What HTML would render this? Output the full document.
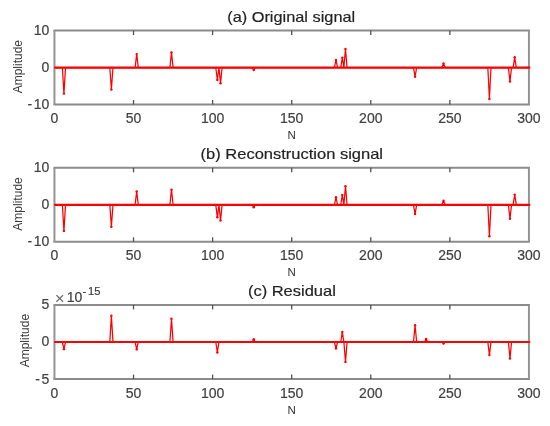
<!DOCTYPE html>
<html><head><meta charset="utf-8"><title>Signal reconstruction</title>
<style>
html,body{margin:0;padding:0;background:#fff;overflow:hidden;}
svg{display:block;}
text{font-family:'Liberation Sans', Arial, sans-serif;fill:#333333;}
</style></head><body>
<svg width="550" height="426" viewBox="0 0 550 426">
<rect x="0" y="0" width="550" height="426" fill="#fff"/>
<line x1="53.45" y1="30.55" x2="529.95" y2="30.55" stroke="#8b8b8b" stroke-width="2.0"/>
<line x1="53.45" y1="104.50" x2="529.95" y2="104.50" stroke="#8b8b8b" stroke-width="2.0"/>
<line x1="54.45" y1="30.55" x2="54.45" y2="104.50" stroke="#949494" stroke-width="2.0"/>
<line x1="528.95" y1="30.55" x2="528.95" y2="104.50" stroke="#949494" stroke-width="2.0"/>
<text x="54.45" y="123.10" font-size="14" text-anchor="middle" style="fill:#404040" stroke="#404040" stroke-width="0.2">0</text>
<line x1="133.53" y1="104.50" x2="133.53" y2="100.00" stroke="#505050" stroke-width="1.3"/>
<line x1="133.53" y1="30.55" x2="133.53" y2="35.05" stroke="#505050" stroke-width="1.3"/>
<text x="133.53" y="123.10" font-size="14" text-anchor="middle" style="fill:#404040" stroke="#404040" stroke-width="0.2">50</text>
<line x1="212.62" y1="104.50" x2="212.62" y2="100.00" stroke="#505050" stroke-width="1.3"/>
<line x1="212.62" y1="30.55" x2="212.62" y2="35.05" stroke="#505050" stroke-width="1.3"/>
<text x="212.62" y="123.10" font-size="14" text-anchor="middle" style="fill:#404040" stroke="#404040" stroke-width="0.2">100</text>
<line x1="291.70" y1="104.50" x2="291.70" y2="100.00" stroke="#505050" stroke-width="1.3"/>
<line x1="291.70" y1="30.55" x2="291.70" y2="35.05" stroke="#505050" stroke-width="1.3"/>
<text x="291.70" y="123.10" font-size="14" text-anchor="middle" style="fill:#404040" stroke="#404040" stroke-width="0.2">150</text>
<line x1="370.78" y1="104.50" x2="370.78" y2="100.00" stroke="#505050" stroke-width="1.3"/>
<line x1="370.78" y1="30.55" x2="370.78" y2="35.05" stroke="#505050" stroke-width="1.3"/>
<text x="370.78" y="123.10" font-size="14" text-anchor="middle" style="fill:#404040" stroke="#404040" stroke-width="0.2">200</text>
<line x1="449.87" y1="104.50" x2="449.87" y2="100.00" stroke="#505050" stroke-width="1.3"/>
<line x1="449.87" y1="30.55" x2="449.87" y2="35.05" stroke="#505050" stroke-width="1.3"/>
<text x="449.87" y="123.10" font-size="14" text-anchor="middle" style="fill:#404040" stroke="#404040" stroke-width="0.2">250</text>
<text x="528.95" y="123.10" font-size="14" text-anchor="middle" style="fill:#404040" stroke="#404040" stroke-width="0.2">300</text>
<text x="49.3" y="108.95" font-size="14" text-anchor="end" style="fill:#404040" stroke="#404040" stroke-width="0.2">-<tspan dx="1.6">10</tspan></text>
<line x1="54.45" y1="67.53" x2="58.95" y2="67.53" stroke="#505050" stroke-width="1.3"/>
<line x1="528.95" y1="67.53" x2="524.45" y2="67.53" stroke="#505050" stroke-width="1.3"/>
<text x="49.3" y="71.98" font-size="14" text-anchor="end" style="fill:#404040" stroke="#404040" stroke-width="0.2">0</text>
<text x="49.3" y="35.00" font-size="14" text-anchor="end" style="fill:#404040" stroke="#404040" stroke-width="0.2">10</text>
<line x1="55.05" y1="67.53" x2="529.35" y2="67.53" stroke="#ff0000" stroke-width="2.2" stroke-linecap="round"/>
<polyline points="56.03,67.53 57.61,67.53 59.20,67.53 60.78,67.53 62.36,67.53 63.94,93.62 65.52,67.53 67.10,67.53 68.69,67.53 70.27,67.53 71.85,67.53 73.43,67.53 75.01,67.53 76.59,67.53 78.18,67.53 79.76,67.53 81.34,67.53 82.92,67.53 84.50,67.53 86.08,67.53 87.67,67.53 89.25,67.53 90.83,67.53 92.41,67.53 93.99,67.53 95.57,67.53 97.16,67.53 98.74,67.53 100.32,67.53 101.90,67.53 103.48,67.53 105.06,67.53 106.65,67.53 108.23,67.53 109.81,67.53 111.39,89.58 112.97,67.53 114.55,67.53 116.14,67.53 117.72,67.53 119.30,67.53 120.88,67.53 122.46,67.53 124.04,67.53 125.63,67.53 127.21,67.53 128.79,67.53 130.37,67.53 131.95,67.53 133.53,67.53 135.12,67.53 136.70,54.11 138.28,67.53 139.86,67.53 141.44,67.53 143.02,67.53 144.61,67.53 146.19,67.53 147.77,67.53 149.35,67.53 150.93,67.53 152.51,67.53 154.10,67.53 155.68,67.53 157.26,67.53 158.84,67.53 160.42,67.53 162.00,67.53 163.59,67.53 165.17,67.53 166.75,67.53 168.33,67.53 169.91,67.53 171.49,52.38 173.08,67.53 174.66,67.53 176.24,67.53 177.82,67.53 179.40,67.53 180.98,67.53 182.57,67.53 184.15,67.53 185.73,67.53 187.31,67.53 188.89,67.53 190.47,67.53 192.06,67.53 193.64,67.53 195.22,67.53 196.80,67.53 198.38,67.53 199.96,67.53 201.55,67.53 203.13,67.53 204.71,67.53 206.29,67.53 207.87,67.53 209.45,67.53 211.04,67.53 212.62,67.53 214.20,67.53 215.78,67.53 217.36,80.02 218.94,67.53 220.53,83.18 222.11,67.53 223.69,67.53 225.27,67.53 226.85,67.53 228.43,67.53 230.02,67.53 231.60,67.53 233.18,67.53 234.76,67.53 236.34,67.53 237.92,67.53 239.51,67.53 241.09,67.53 242.67,67.53 244.25,67.53 245.83,67.53 247.41,67.53 249.00,67.53 250.58,67.53 252.16,67.53 253.74,70.10 255.32,67.53 256.90,67.53 258.49,67.53 260.07,67.53 261.65,67.53 263.23,67.53 264.81,67.53 266.39,67.53 267.98,67.53 269.56,67.53 271.14,67.53 272.72,67.53 274.30,67.53 275.88,67.53 277.47,67.53 279.05,67.53 280.63,67.53 282.21,67.53 283.79,67.53 285.37,67.53 286.96,67.53 288.54,67.53 290.12,67.53 291.70,67.53 293.28,67.53 294.86,67.53 296.45,67.53 298.03,67.53 299.61,67.53 301.19,67.53 302.77,67.53 304.35,67.53 305.94,67.53 307.52,67.53 309.10,67.53 310.68,67.53 312.26,67.53 313.84,67.53 315.43,67.53 317.01,67.53 318.59,67.53 320.17,67.53 321.75,67.53 323.33,67.53 324.92,67.53 326.50,67.53 328.08,67.53 329.66,67.53 331.24,67.53 332.82,67.53 334.41,67.53 335.99,59.99 337.57,67.53 339.15,67.53 340.73,67.53 342.31,57.60 343.90,67.53 345.48,48.89 347.06,67.53 348.64,67.53 350.22,67.53 351.80,67.53 353.39,67.53 354.97,67.53 356.55,67.53 358.13,67.53 359.71,67.53 361.29,67.53 362.88,67.53 364.46,67.53 366.04,67.53 367.62,67.53 369.20,67.53 370.78,67.53 372.37,67.53 373.95,67.53 375.53,67.53 377.11,67.53 378.69,67.53 380.27,67.53 381.86,67.53 383.44,67.53 385.02,67.53 386.60,67.53 388.18,67.53 389.76,67.53 391.35,67.53 392.93,67.53 394.51,67.53 396.09,67.53 397.67,67.53 399.25,67.53 400.84,67.53 402.42,67.53 404.00,67.53 405.58,67.53 407.16,67.53 408.74,67.53 410.33,67.53 411.91,67.53 413.49,67.53 415.07,76.71 416.65,67.53 418.23,67.53 419.82,67.53 421.40,67.53 422.98,67.53 424.56,67.53 426.14,67.53 427.72,67.53 429.31,67.53 430.89,67.53 432.47,67.53 434.05,67.53 435.63,67.53 437.21,67.53 438.80,67.53 440.38,67.53 441.96,67.53 443.54,63.48 445.12,67.53 446.70,67.53 448.29,67.53 449.87,67.53 451.45,67.53 453.03,67.53 454.61,67.53 456.19,67.53 457.78,67.53 459.36,67.53 460.94,67.53 462.52,67.53 464.10,67.53 465.68,67.53 467.27,67.53 468.85,67.53 470.43,67.53 472.01,67.53 473.59,67.53 475.17,67.53 476.76,67.53 478.34,67.53 479.92,67.53 481.50,67.53 483.08,67.53 484.66,67.53 486.25,67.53 487.83,67.53 489.41,98.98 490.99,67.53 492.57,67.53 494.15,67.53 495.74,67.53 497.32,67.53 498.90,67.53 500.48,67.53 502.06,67.53 503.64,67.53 505.23,67.53 506.81,67.53 508.39,67.53 509.97,81.49 511.55,67.53 513.13,67.53 514.72,57.31 516.30,67.53 517.88,67.53 519.46,67.53 521.04,67.53 522.62,67.53 524.21,67.53 525.79,67.53 527.37,67.53 528.95,67.53" fill="none" stroke="#ff0000" stroke-width="1.25" stroke-linejoin="round"/>
<circle cx="63.94" cy="93.62" r="1.2" fill="#ff0000"/>
<circle cx="111.39" cy="89.58" r="1.2" fill="#ff0000"/>
<circle cx="136.70" cy="54.11" r="1.2" fill="#ff0000"/>
<circle cx="171.49" cy="52.38" r="1.2" fill="#ff0000"/>
<circle cx="217.36" cy="80.02" r="1.2" fill="#ff0000"/>
<circle cx="220.53" cy="83.18" r="1.2" fill="#ff0000"/>
<circle cx="253.74" cy="70.10" r="1.2" fill="#ff0000"/>
<circle cx="335.99" cy="59.99" r="1.2" fill="#ff0000"/>
<circle cx="342.31" cy="57.60" r="1.2" fill="#ff0000"/>
<circle cx="345.48" cy="48.89" r="1.2" fill="#ff0000"/>
<circle cx="415.07" cy="76.71" r="1.2" fill="#ff0000"/>
<circle cx="443.54" cy="63.48" r="1.2" fill="#ff0000"/>
<circle cx="489.41" cy="98.98" r="1.2" fill="#ff0000"/>
<circle cx="509.97" cy="81.49" r="1.2" fill="#ff0000"/>
<circle cx="514.72" cy="57.31" r="1.2" fill="#ff0000"/>
<text x="227.20" y="21.70" font-size="15" textLength="128.00" lengthAdjust="spacingAndGlyphs" style="fill:#222" stroke="#222" stroke-width="0.18">(a) Original signal</text>
<text x="291.70" y="139.10" font-size="11.5" text-anchor="middle" style="fill:#333">N</text>
<text transform="translate(21.8,66.68) rotate(-90)" x="0" y="0" font-size="12" text-anchor="middle" style="fill:#3a3a3a">Amplitude</text>
<line x1="53.45" y1="167.80" x2="529.95" y2="167.80" stroke="#8b8b8b" stroke-width="2.0"/>
<line x1="53.45" y1="241.80" x2="529.95" y2="241.80" stroke="#8b8b8b" stroke-width="2.0"/>
<line x1="54.45" y1="167.80" x2="54.45" y2="241.80" stroke="#949494" stroke-width="2.0"/>
<line x1="528.95" y1="167.80" x2="528.95" y2="241.80" stroke="#949494" stroke-width="2.0"/>
<text x="54.45" y="260.40" font-size="14" text-anchor="middle" style="fill:#404040" stroke="#404040" stroke-width="0.2">0</text>
<line x1="133.53" y1="241.80" x2="133.53" y2="237.30" stroke="#505050" stroke-width="1.3"/>
<line x1="133.53" y1="167.80" x2="133.53" y2="172.30" stroke="#505050" stroke-width="1.3"/>
<text x="133.53" y="260.40" font-size="14" text-anchor="middle" style="fill:#404040" stroke="#404040" stroke-width="0.2">50</text>
<line x1="212.62" y1="241.80" x2="212.62" y2="237.30" stroke="#505050" stroke-width="1.3"/>
<line x1="212.62" y1="167.80" x2="212.62" y2="172.30" stroke="#505050" stroke-width="1.3"/>
<text x="212.62" y="260.40" font-size="14" text-anchor="middle" style="fill:#404040" stroke="#404040" stroke-width="0.2">100</text>
<line x1="291.70" y1="241.80" x2="291.70" y2="237.30" stroke="#505050" stroke-width="1.3"/>
<line x1="291.70" y1="167.80" x2="291.70" y2="172.30" stroke="#505050" stroke-width="1.3"/>
<text x="291.70" y="260.40" font-size="14" text-anchor="middle" style="fill:#404040" stroke="#404040" stroke-width="0.2">150</text>
<line x1="370.78" y1="241.80" x2="370.78" y2="237.30" stroke="#505050" stroke-width="1.3"/>
<line x1="370.78" y1="167.80" x2="370.78" y2="172.30" stroke="#505050" stroke-width="1.3"/>
<text x="370.78" y="260.40" font-size="14" text-anchor="middle" style="fill:#404040" stroke="#404040" stroke-width="0.2">200</text>
<line x1="449.87" y1="241.80" x2="449.87" y2="237.30" stroke="#505050" stroke-width="1.3"/>
<line x1="449.87" y1="167.80" x2="449.87" y2="172.30" stroke="#505050" stroke-width="1.3"/>
<text x="449.87" y="260.40" font-size="14" text-anchor="middle" style="fill:#404040" stroke="#404040" stroke-width="0.2">250</text>
<text x="528.95" y="260.40" font-size="14" text-anchor="middle" style="fill:#404040" stroke="#404040" stroke-width="0.2">300</text>
<text x="49.3" y="246.25" font-size="14" text-anchor="end" style="fill:#404040" stroke="#404040" stroke-width="0.2">-<tspan dx="1.6">10</tspan></text>
<line x1="54.45" y1="204.80" x2="58.95" y2="204.80" stroke="#505050" stroke-width="1.3"/>
<line x1="528.95" y1="204.80" x2="524.45" y2="204.80" stroke="#505050" stroke-width="1.3"/>
<text x="49.3" y="209.25" font-size="14" text-anchor="end" style="fill:#404040" stroke="#404040" stroke-width="0.2">0</text>
<text x="49.3" y="172.25" font-size="14" text-anchor="end" style="fill:#404040" stroke="#404040" stroke-width="0.2">10</text>
<line x1="55.05" y1="204.80" x2="529.35" y2="204.80" stroke="#ff0000" stroke-width="2.2" stroke-linecap="round"/>
<polyline points="56.03,204.80 57.61,204.80 59.20,204.80 60.78,204.80 62.36,204.80 63.94,230.89 65.52,204.80 67.10,204.80 68.69,204.80 70.27,204.80 71.85,204.80 73.43,204.80 75.01,204.80 76.59,204.80 78.18,204.80 79.76,204.80 81.34,204.80 82.92,204.80 84.50,204.80 86.08,204.80 87.67,204.80 89.25,204.80 90.83,204.80 92.41,204.80 93.99,204.80 95.57,204.80 97.16,204.80 98.74,204.80 100.32,204.80 101.90,204.80 103.48,204.80 105.06,204.80 106.65,204.80 108.23,204.80 109.81,204.80 111.39,226.85 112.97,204.80 114.55,204.80 116.14,204.80 117.72,204.80 119.30,204.80 120.88,204.80 122.46,204.80 124.04,204.80 125.63,204.80 127.21,204.80 128.79,204.80 130.37,204.80 131.95,204.80 133.53,204.80 135.12,204.80 136.70,191.39 138.28,204.80 139.86,204.80 141.44,204.80 143.02,204.80 144.61,204.80 146.19,204.80 147.77,204.80 149.35,204.80 150.93,204.80 152.51,204.80 154.10,204.80 155.68,204.80 157.26,204.80 158.84,204.80 160.42,204.80 162.00,204.80 163.59,204.80 165.17,204.80 166.75,204.80 168.33,204.80 169.91,204.80 171.49,189.66 173.08,204.80 174.66,204.80 176.24,204.80 177.82,204.80 179.40,204.80 180.98,204.80 182.57,204.80 184.15,204.80 185.73,204.80 187.31,204.80 188.89,204.80 190.47,204.80 192.06,204.80 193.64,204.80 195.22,204.80 196.80,204.80 198.38,204.80 199.96,204.80 201.55,204.80 203.13,204.80 204.71,204.80 206.29,204.80 207.87,204.80 209.45,204.80 211.04,204.80 212.62,204.80 214.20,204.80 215.78,204.80 217.36,217.30 218.94,204.80 220.53,220.46 222.11,204.80 223.69,204.80 225.27,204.80 226.85,204.80 228.43,204.80 230.02,204.80 231.60,204.80 233.18,204.80 234.76,204.80 236.34,204.80 237.92,204.80 239.51,204.80 241.09,204.80 242.67,204.80 244.25,204.80 245.83,204.80 247.41,204.80 249.00,204.80 250.58,204.80 252.16,204.80 253.74,207.37 255.32,204.80 256.90,204.80 258.49,204.80 260.07,204.80 261.65,204.80 263.23,204.80 264.81,204.80 266.39,204.80 267.98,204.80 269.56,204.80 271.14,204.80 272.72,204.80 274.30,204.80 275.88,204.80 277.47,204.80 279.05,204.80 280.63,204.80 282.21,204.80 283.79,204.80 285.37,204.80 286.96,204.80 288.54,204.80 290.12,204.80 291.70,204.80 293.28,204.80 294.86,204.80 296.45,204.80 298.03,204.80 299.61,204.80 301.19,204.80 302.77,204.80 304.35,204.80 305.94,204.80 307.52,204.80 309.10,204.80 310.68,204.80 312.26,204.80 313.84,204.80 315.43,204.80 317.01,204.80 318.59,204.80 320.17,204.80 321.75,204.80 323.33,204.80 324.92,204.80 326.50,204.80 328.08,204.80 329.66,204.80 331.24,204.80 332.82,204.80 334.41,204.80 335.99,197.27 337.57,204.80 339.15,204.80 340.73,204.80 342.31,194.88 343.90,204.80 345.48,186.17 347.06,204.80 348.64,204.80 350.22,204.80 351.80,204.80 353.39,204.80 354.97,204.80 356.55,204.80 358.13,204.80 359.71,204.80 361.29,204.80 362.88,204.80 364.46,204.80 366.04,204.80 367.62,204.80 369.20,204.80 370.78,204.80 372.37,204.80 373.95,204.80 375.53,204.80 377.11,204.80 378.69,204.80 380.27,204.80 381.86,204.80 383.44,204.80 385.02,204.80 386.60,204.80 388.18,204.80 389.76,204.80 391.35,204.80 392.93,204.80 394.51,204.80 396.09,204.80 397.67,204.80 399.25,204.80 400.84,204.80 402.42,204.80 404.00,204.80 405.58,204.80 407.16,204.80 408.74,204.80 410.33,204.80 411.91,204.80 413.49,204.80 415.07,213.99 416.65,204.80 418.23,204.80 419.82,204.80 421.40,204.80 422.98,204.80 424.56,204.80 426.14,204.80 427.72,204.80 429.31,204.80 430.89,204.80 432.47,204.80 434.05,204.80 435.63,204.80 437.21,204.80 438.80,204.80 440.38,204.80 441.96,204.80 443.54,200.76 445.12,204.80 446.70,204.80 448.29,204.80 449.87,204.80 451.45,204.80 453.03,204.80 454.61,204.80 456.19,204.80 457.78,204.80 459.36,204.80 460.94,204.80 462.52,204.80 464.10,204.80 465.68,204.80 467.27,204.80 468.85,204.80 470.43,204.80 472.01,204.80 473.59,204.80 475.17,204.80 476.76,204.80 478.34,204.80 479.92,204.80 481.50,204.80 483.08,204.80 484.66,204.80 486.25,204.80 487.83,204.80 489.41,236.26 490.99,204.80 492.57,204.80 494.15,204.80 495.74,204.80 497.32,204.80 498.90,204.80 500.48,204.80 502.06,204.80 503.64,204.80 505.23,204.80 506.81,204.80 508.39,204.80 509.97,218.77 511.55,204.80 513.13,204.80 514.72,194.58 516.30,204.80 517.88,204.80 519.46,204.80 521.04,204.80 522.62,204.80 524.21,204.80 525.79,204.80 527.37,204.80 528.95,204.80" fill="none" stroke="#ff0000" stroke-width="1.25" stroke-linejoin="round"/>
<circle cx="63.94" cy="230.89" r="1.2" fill="#ff0000"/>
<circle cx="111.39" cy="226.85" r="1.2" fill="#ff0000"/>
<circle cx="136.70" cy="191.39" r="1.2" fill="#ff0000"/>
<circle cx="171.49" cy="189.66" r="1.2" fill="#ff0000"/>
<circle cx="217.36" cy="217.30" r="1.2" fill="#ff0000"/>
<circle cx="220.53" cy="220.46" r="1.2" fill="#ff0000"/>
<circle cx="253.74" cy="207.37" r="1.2" fill="#ff0000"/>
<circle cx="335.99" cy="197.27" r="1.2" fill="#ff0000"/>
<circle cx="342.31" cy="194.88" r="1.2" fill="#ff0000"/>
<circle cx="345.48" cy="186.17" r="1.2" fill="#ff0000"/>
<circle cx="415.07" cy="213.99" r="1.2" fill="#ff0000"/>
<circle cx="443.54" cy="200.76" r="1.2" fill="#ff0000"/>
<circle cx="489.41" cy="236.26" r="1.2" fill="#ff0000"/>
<circle cx="509.97" cy="218.77" r="1.2" fill="#ff0000"/>
<circle cx="514.72" cy="194.58" r="1.2" fill="#ff0000"/>
<text x="200.60" y="158.50" font-size="15" textLength="182.40" lengthAdjust="spacingAndGlyphs" style="fill:#222" stroke="#222" stroke-width="0.18">(b) Reconstruction signal</text>
<text x="291.70" y="276.40" font-size="11.5" text-anchor="middle" style="fill:#333">N</text>
<text transform="translate(21.7,203.95) rotate(-90)" x="0" y="0" font-size="12" text-anchor="middle" style="fill:#3a3a3a">Amplitude</text>
<line x1="53.45" y1="304.95" x2="529.95" y2="304.95" stroke="#8b8b8b" stroke-width="2.0"/>
<line x1="53.45" y1="379.10" x2="529.95" y2="379.10" stroke="#8b8b8b" stroke-width="2.0"/>
<line x1="54.45" y1="304.95" x2="54.45" y2="379.10" stroke="#949494" stroke-width="2.0"/>
<line x1="528.95" y1="304.95" x2="528.95" y2="379.10" stroke="#949494" stroke-width="2.0"/>
<text x="54.45" y="397.70" font-size="14" text-anchor="middle" style="fill:#404040" stroke="#404040" stroke-width="0.2">0</text>
<line x1="133.53" y1="379.10" x2="133.53" y2="374.60" stroke="#505050" stroke-width="1.3"/>
<line x1="133.53" y1="304.95" x2="133.53" y2="309.45" stroke="#505050" stroke-width="1.3"/>
<text x="133.53" y="397.70" font-size="14" text-anchor="middle" style="fill:#404040" stroke="#404040" stroke-width="0.2">50</text>
<line x1="212.62" y1="379.10" x2="212.62" y2="374.60" stroke="#505050" stroke-width="1.3"/>
<line x1="212.62" y1="304.95" x2="212.62" y2="309.45" stroke="#505050" stroke-width="1.3"/>
<text x="212.62" y="397.70" font-size="14" text-anchor="middle" style="fill:#404040" stroke="#404040" stroke-width="0.2">100</text>
<line x1="291.70" y1="379.10" x2="291.70" y2="374.60" stroke="#505050" stroke-width="1.3"/>
<line x1="291.70" y1="304.95" x2="291.70" y2="309.45" stroke="#505050" stroke-width="1.3"/>
<text x="291.70" y="397.70" font-size="14" text-anchor="middle" style="fill:#404040" stroke="#404040" stroke-width="0.2">150</text>
<line x1="370.78" y1="379.10" x2="370.78" y2="374.60" stroke="#505050" stroke-width="1.3"/>
<line x1="370.78" y1="304.95" x2="370.78" y2="309.45" stroke="#505050" stroke-width="1.3"/>
<text x="370.78" y="397.70" font-size="14" text-anchor="middle" style="fill:#404040" stroke="#404040" stroke-width="0.2">200</text>
<line x1="449.87" y1="379.10" x2="449.87" y2="374.60" stroke="#505050" stroke-width="1.3"/>
<line x1="449.87" y1="304.95" x2="449.87" y2="309.45" stroke="#505050" stroke-width="1.3"/>
<text x="449.87" y="397.70" font-size="14" text-anchor="middle" style="fill:#404040" stroke="#404040" stroke-width="0.2">250</text>
<text x="528.95" y="397.70" font-size="14" text-anchor="middle" style="fill:#404040" stroke="#404040" stroke-width="0.2">300</text>
<text x="49.3" y="383.55" font-size="14" text-anchor="end" style="fill:#404040" stroke="#404040" stroke-width="0.2">-<tspan dx="1.6">5</tspan></text>
<line x1="54.45" y1="342.02" x2="58.95" y2="342.02" stroke="#505050" stroke-width="1.3"/>
<line x1="528.95" y1="342.02" x2="524.45" y2="342.02" stroke="#505050" stroke-width="1.3"/>
<text x="49.3" y="346.47" font-size="14" text-anchor="end" style="fill:#404040" stroke="#404040" stroke-width="0.2">0</text>
<text x="49.3" y="309.40" font-size="14" text-anchor="end" style="fill:#404040" stroke="#404040" stroke-width="0.2">5</text>
<line x1="55.05" y1="342.02" x2="529.35" y2="342.02" stroke="#ff0000" stroke-width="2.2" stroke-linecap="round"/>
<polyline points="56.03,342.02 57.61,342.02 59.20,342.02 60.78,342.02 62.36,342.02 63.94,349.13 65.52,342.02 67.10,342.02 68.69,342.02 70.27,342.02 71.85,342.02 73.43,342.02 75.01,342.02 76.59,342.02 78.18,342.02 79.76,342.02 81.34,342.02 82.92,342.02 84.50,342.02 86.08,342.02 87.67,342.02 89.25,342.02 90.83,342.02 92.41,342.02 93.99,342.02 95.57,342.02 97.16,342.02 98.74,342.02 100.32,342.02 101.90,342.02 103.48,342.02 105.06,342.02 106.65,342.02 108.23,342.02 109.81,342.02 111.39,315.75 112.97,342.02 114.55,342.02 116.14,342.02 117.72,342.02 119.30,342.02 120.88,342.02 122.46,342.02 124.04,342.02 125.63,342.02 127.21,342.02 128.79,342.02 130.37,342.02 131.95,342.02 133.53,342.02 135.12,342.02 136.70,349.42 138.28,342.02 139.86,342.02 141.44,342.02 143.02,342.02 144.61,342.02 146.19,342.02 147.77,342.02 149.35,342.02 150.93,342.02 152.51,342.02 154.10,342.02 155.68,342.02 157.26,342.02 158.84,342.02 160.42,342.02 162.00,342.02 163.59,342.02 165.17,342.02 166.75,342.02 168.33,342.02 169.91,342.02 171.49,318.71 173.08,342.02 174.66,342.02 176.24,342.02 177.82,342.02 179.40,342.02 180.98,342.02 182.57,342.02 184.15,342.02 185.73,342.02 187.31,342.02 188.89,342.02 190.47,342.02 192.06,342.02 193.64,342.02 195.22,342.02 196.80,342.02 198.38,342.02 199.96,342.02 201.55,342.02 203.13,342.02 204.71,342.02 206.29,342.02 207.87,342.02 209.45,342.02 211.04,342.02 212.62,342.02 214.20,342.02 215.78,342.02 217.36,352.53 218.94,342.02 220.53,342.02 222.11,342.02 223.69,342.02 225.27,342.02 226.85,342.02 228.43,342.02 230.02,342.02 231.60,342.02 233.18,342.02 234.76,342.02 236.34,342.02 237.92,342.02 239.51,342.02 241.09,342.02 242.67,342.02 244.25,342.02 245.83,342.02 247.41,342.02 249.00,342.02 250.58,342.02 252.16,342.02 253.74,339.21 255.32,342.02 256.90,342.02 258.49,342.02 260.07,342.02 261.65,342.02 263.23,342.02 264.81,342.02 266.39,342.02 267.98,342.02 269.56,342.02 271.14,342.02 272.72,342.02 274.30,342.02 275.88,342.02 277.47,342.02 279.05,342.02 280.63,342.02 282.21,342.02 283.79,342.02 285.37,342.02 286.96,342.02 288.54,342.02 290.12,342.02 291.70,342.02 293.28,342.02 294.86,342.02 296.45,342.02 298.03,342.02 299.61,342.02 301.19,342.02 302.77,342.02 304.35,342.02 305.94,342.02 307.52,342.02 309.10,342.02 310.68,342.02 312.26,342.02 313.84,342.02 315.43,342.02 317.01,342.02 318.59,342.02 320.17,342.02 321.75,342.02 323.33,342.02 324.92,342.02 326.50,342.02 328.08,342.02 329.66,342.02 331.24,342.02 332.82,342.02 334.41,342.02 335.99,348.54 337.57,342.02 339.15,342.02 340.73,342.02 342.31,332.03 343.90,342.02 345.48,362.00 347.06,342.02 348.64,342.02 350.22,342.02 351.80,342.02 353.39,342.02 354.97,342.02 356.55,342.02 358.13,342.02 359.71,342.02 361.29,342.02 362.88,342.02 364.46,342.02 366.04,342.02 367.62,342.02 369.20,342.02 370.78,342.02 372.37,342.02 373.95,342.02 375.53,342.02 377.11,342.02 378.69,342.02 380.27,342.02 381.86,342.02 383.44,342.02 385.02,342.02 386.60,342.02 388.18,342.02 389.76,342.02 391.35,342.02 392.93,342.02 394.51,342.02 396.09,342.02 397.67,342.02 399.25,342.02 400.84,342.02 402.42,342.02 404.00,342.02 405.58,342.02 407.16,342.02 408.74,342.02 410.33,342.02 411.91,342.02 413.49,342.02 415.07,325.30 416.65,342.02 418.23,342.02 419.82,342.02 421.40,342.02 422.98,342.02 424.56,342.02 426.14,338.84 427.72,342.02 429.31,342.02 430.89,342.02 432.47,342.02 434.05,342.02 435.63,342.02 437.21,342.02 438.80,342.02 440.38,342.02 441.96,342.02 443.54,343.50 445.12,342.02 446.70,342.02 448.29,342.02 449.87,342.02 451.45,342.02 453.03,342.02 454.61,342.02 456.19,342.02 457.78,342.02 459.36,342.02 460.94,342.02 462.52,342.02 464.10,342.02 465.68,342.02 467.27,342.02 468.85,342.02 470.43,342.02 472.01,342.02 473.59,342.02 475.17,342.02 476.76,342.02 478.34,342.02 479.92,342.02 481.50,342.02 483.08,342.02 484.66,342.02 486.25,342.02 487.83,342.02 489.41,355.12 490.99,342.02 492.57,342.02 494.15,342.02 495.74,342.02 497.32,342.02 498.90,342.02 500.48,342.02 502.06,342.02 503.64,342.02 505.23,342.02 506.81,342.02 508.39,342.02 509.97,358.53 511.55,342.02 513.13,342.02 514.72,342.02 516.30,342.02 517.88,342.02 519.46,342.02 521.04,342.02 522.62,342.02 524.21,342.02 525.79,342.02 527.37,342.02 528.95,342.02" fill="none" stroke="#ff0000" stroke-width="1.25" stroke-linejoin="round"/>
<circle cx="63.94" cy="349.13" r="1.2" fill="#ff0000"/>
<circle cx="111.39" cy="315.75" r="1.2" fill="#ff0000"/>
<circle cx="136.70" cy="349.42" r="1.2" fill="#ff0000"/>
<circle cx="171.49" cy="318.71" r="1.2" fill="#ff0000"/>
<circle cx="217.36" cy="352.53" r="1.2" fill="#ff0000"/>
<circle cx="253.74" cy="339.21" r="1.2" fill="#ff0000"/>
<circle cx="335.99" cy="348.54" r="1.2" fill="#ff0000"/>
<circle cx="342.31" cy="332.03" r="1.2" fill="#ff0000"/>
<circle cx="345.48" cy="362.00" r="1.2" fill="#ff0000"/>
<circle cx="415.07" cy="325.30" r="1.2" fill="#ff0000"/>
<circle cx="426.14" cy="338.84" r="1.2" fill="#ff0000"/>
<circle cx="443.54" cy="343.50" r="1.2" fill="#ff0000"/>
<circle cx="489.41" cy="355.12" r="1.2" fill="#ff0000"/>
<circle cx="509.97" cy="358.53" r="1.2" fill="#ff0000"/>
<text x="247.90" y="295.70" font-size="15" textLength="88.00" lengthAdjust="spacingAndGlyphs" style="fill:#222" stroke="#222" stroke-width="0.18">(c) Residual</text>
<text x="291.70" y="413.70" font-size="11.5" text-anchor="middle" style="fill:#333">N</text>
<text transform="translate(29.0,340.62) rotate(-90)" x="0" y="0" font-size="12" text-anchor="middle" style="fill:#3a3a3a">Amplitude</text>
<text x="59.8" y="304.0" font-size="17" text-anchor="middle" style="fill:#6a6a6a">×</text>
<text x="66.8" y="301.8" font-size="14" style="fill:#404040" stroke="#404040" stroke-width="0.2">10</text>
<text x="82.6" y="295.0" font-size="11.2" style="fill:#404040" stroke="#404040" stroke-width="0.2">-<tspan dx="1.6">15</tspan></text>
</svg>
</body></html>
